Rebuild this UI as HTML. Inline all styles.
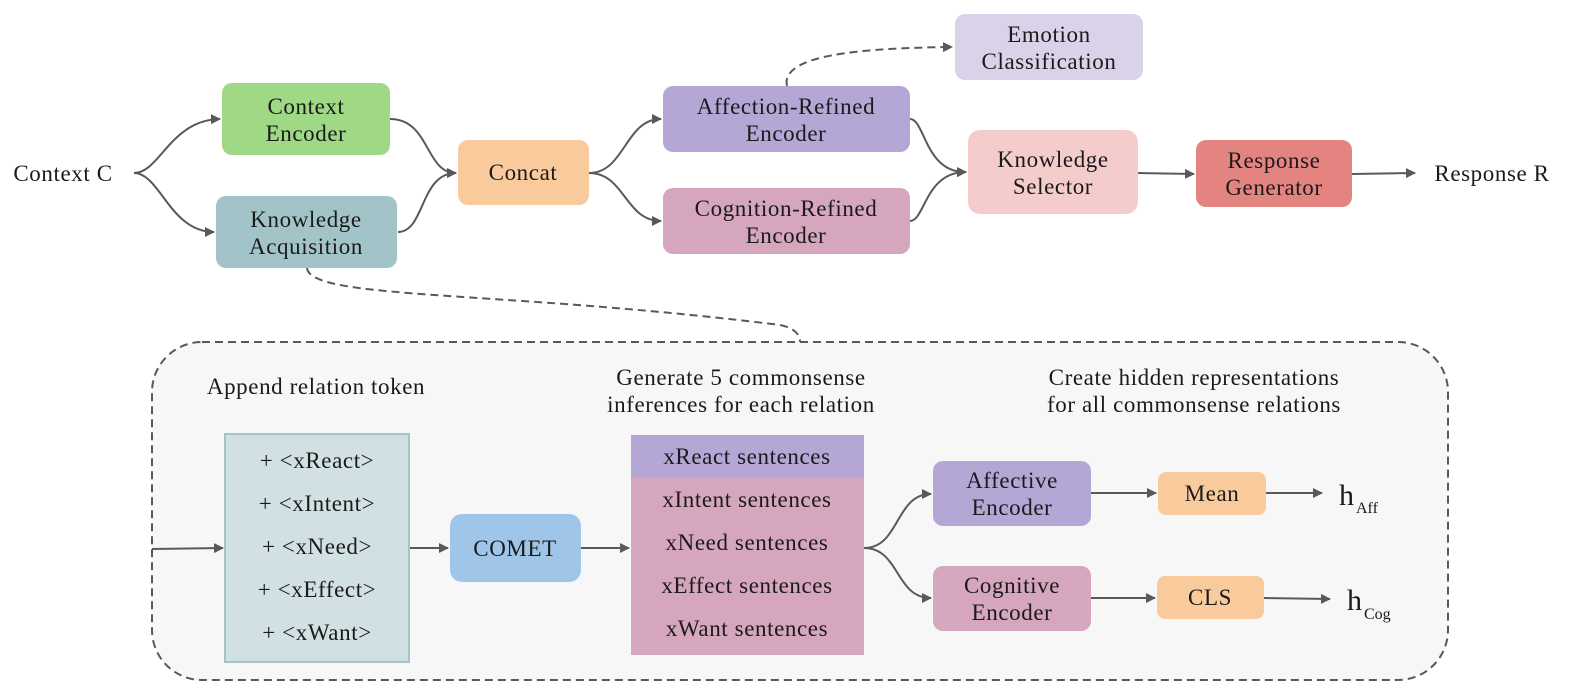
<!DOCTYPE html>
<html><head><meta charset="utf-8"><style>
html,body{margin:0;padding:0;background:#fff}
svg{display:block}
text{font-family:"Liberation Serif",serif;fill:#1a1a1a;font-size:23px;letter-spacing:0.6px;text-anchor:middle}
</style></head><body>
<svg width="1569" height="695" viewBox="0 0 1569 695" xmlns="http://www.w3.org/2000/svg">
<defs>
<marker id="a" markerWidth="10" markerHeight="10" refX="9" refY="5" orient="auto" markerUnits="userSpaceOnUse"><path d="M0,0 L10,5 L0,10 z" fill="#595959"/></marker>
</defs>
<g fill="none" stroke="#595959" stroke-width="2">
<rect x="152" y="342" width="1296" height="338" rx="50" fill="#f7f7f7" stroke-dasharray="8,5"/>
<path d="M307,268 C310,300 500,290 780,325 C795,328 800,335 800,342" stroke-dasharray="8,5"/>
<path d="M787,86 C780,55 860,48 952,47" stroke-dasharray="8,5" marker-end="url(#a)"/>
<path d="M134,173 C160,173 170,120 220,119" marker-end="url(#a)"/>
<path d="M134,173 C160,173 170,232 214,232" marker-end="url(#a)"/>
<path d="M390,119 C430,119 425,173 456,173" marker-end="url(#a)"/>
<path d="M398,232 C425,232 420,173 456,173" marker-end="url(#a)"/>
<path d="M589,173 C625,173 625,119 661,119" marker-end="url(#a)"/>
<path d="M589,173 C625,173 625,221 661,221" marker-end="url(#a)"/>
<path d="M910,119 C925,119 925,173 966,172" marker-end="url(#a)"/>
<path d="M910,221 C925,221 925,172 966,172" marker-end="url(#a)"/>
<path d="M1138,173 L1194,174" marker-end="url(#a)"/>
<path d="M1352,174 L1415,173" marker-end="url(#a)"/>
<path d="M152,549 L223,548" marker-end="url(#a)"/>
<path d="M409,548 L448,548" marker-end="url(#a)"/>
<path d="M581,548 L629,548" marker-end="url(#a)"/>
<path d="M864,548 C900,548 895,494 931,494" marker-end="url(#a)"/>
<path d="M864,548 C900,548 895,598 931,598" marker-end="url(#a)"/>
<path d="M1091,493 L1156,493" marker-end="url(#a)"/>
<path d="M1266,493 L1322,493" marker-end="url(#a)"/>
<path d="M1091,598 L1155,598" marker-end="url(#a)"/>
<path d="M1264,598 L1330,599" marker-end="url(#a)"/>
</g>
<g stroke="none">
<rect x="222" y="83" width="168" height="72" rx="10" fill="#a0d985"/>
<rect x="216" y="196" width="181" height="72" rx="10" fill="#a2c4c9"/>
<rect x="458" y="140" width="131" height="65" rx="10" fill="#f9cb9c"/>
<rect x="663" y="86" width="247" height="66" rx="10" fill="#b4a7d6"/>
<rect x="663" y="188" width="247" height="66" rx="10" fill="#d5a6bd"/>
<rect x="955" y="14" width="188" height="66" rx="10" fill="#d9d2e9"/>
<rect x="968" y="130" width="170" height="84" rx="12" fill="#f4cccc"/>
<rect x="1196" y="140" width="156" height="67" rx="10" fill="#e48481"/>
<rect x="225" y="434" width="184" height="228" fill="#d0e0e3" stroke="#a2c4c9" stroke-width="2"/>
<rect x="450" y="514" width="131" height="68" rx="12" fill="#9fc5e8"/>
<rect x="631" y="477" width="233" height="178" fill="#d5a6bd"/>
<rect x="631" y="435" width="233" height="42" fill="#b4a7d6"/>
<rect x="933" y="461" width="158" height="65" rx="10" fill="#b4a7d6"/>
<rect x="933" y="566" width="158" height="65" rx="10" fill="#d5a6bd"/>
<rect x="1158" y="472" width="108" height="43" rx="8" fill="#f9cb9c"/>
<rect x="1157" y="576" width="107" height="43" rx="8" fill="#f9cb9c"/>
</g>
<text x="63" y="181">Context C</text>
<text x="306" y="114">Context</text><text x="306" y="141">Encoder</text>
<text x="306" y="227">Knowledge</text><text x="306" y="254">Acquisition</text>
<text x="523" y="180">Concat</text>
<text x="786" y="114">Affection-Refined</text><text x="786" y="141">Encoder</text>
<text x="786" y="216">Cognition-Refined</text><text x="786" y="243">Encoder</text>
<text x="1049" y="42">Emotion</text><text x="1049" y="69">Classification</text>
<text x="1053" y="167">Knowledge</text><text x="1053" y="194">Selector</text>
<text x="1274" y="168">Response</text><text x="1274" y="195">Generator</text>
<text x="1492" y="181">Response R</text>
<text x="316" y="394">Append relation token</text>
<text x="741" y="385">Generate 5 commonsense</text><text x="741" y="412">inferences for each relation</text>
<text x="1194" y="385">Create hidden representations</text><text x="1194" y="412">for all commonsense relations</text>
<text x="317" y="468">+ &lt;xReact&gt;</text>
<text x="317" y="511">+ &lt;xIntent&gt;</text>
<text x="317" y="554">+ &lt;xNeed&gt;</text>
<text x="317" y="597">+ &lt;xEffect&gt;</text>
<text x="317" y="640">+ &lt;xWant&gt;</text>
<text x="515" y="556">COMET</text>
<text x="747" y="464">xReact sentences</text>
<text x="747" y="507">xIntent sentences</text>
<text x="747" y="550">xNeed sentences</text>
<text x="747" y="593">xEffect sentences</text>
<text x="747" y="636">xWant sentences</text>
<text x="1012" y="488">Affective</text><text x="1012" y="515">Encoder</text>
<text x="1012" y="593">Cognitive</text><text x="1012" y="620">Encoder</text>
<text x="1212" y="501">Mean</text>
<text x="1210" y="605">CLS</text>
<text x="1339" y="505" style="font-size:30px;text-anchor:start;letter-spacing:0">h</text><text x="1356" y="513" style="font-size:16px;text-anchor:start;letter-spacing:0">Aff</text>
<text x="1347" y="610" style="font-size:30px;text-anchor:start;letter-spacing:0">h</text><text x="1364" y="619" style="font-size:16px;text-anchor:start;letter-spacing:0">Cog</text>
</svg>
</body></html>
